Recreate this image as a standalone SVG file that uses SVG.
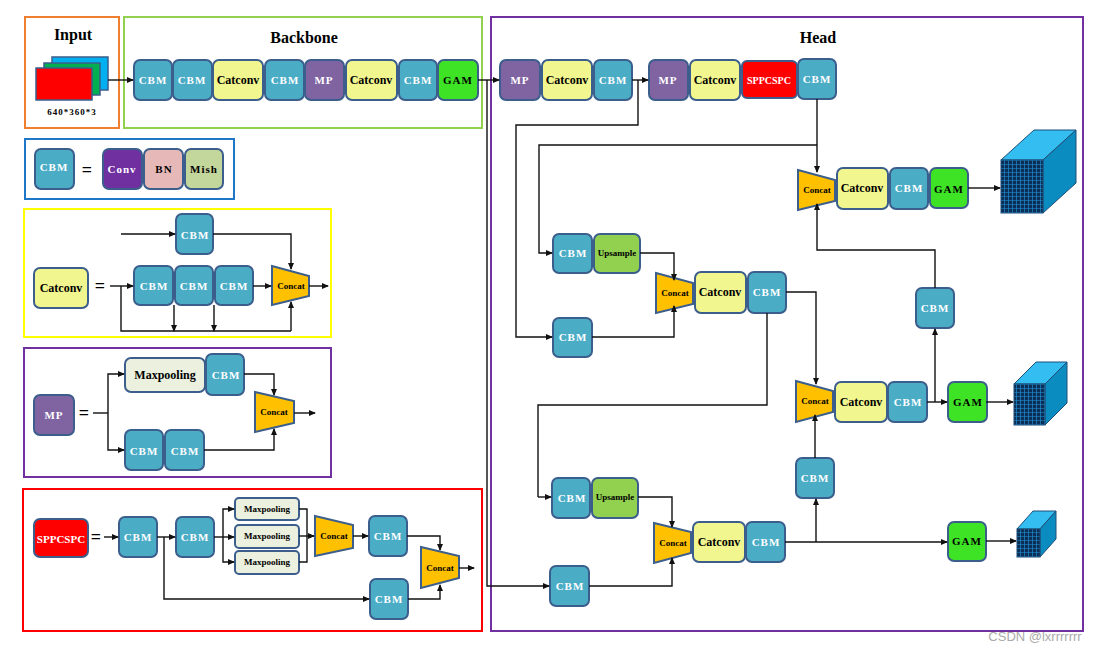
<svg xmlns="http://www.w3.org/2000/svg" width="1098" height="652" viewBox="0 0 1098 652">
<style>
text{font-family:"Liberation Serif",serif;font-weight:bold;text-anchor:middle;dominant-baseline:central}
.n{stroke:#3B5E8C;stroke-width:2}
.cbm{fill:#4BACC6}.cc{fill:#F2F68F}.mp{fill:#8064A2}.gam{fill:#3EE326}.up{fill:#92D050}.mx{fill:#EBF1DE}.sp{fill:#FF0000}
.con{fill:#FFC000;stroke:#3B5E8C;stroke-width:2}
.w{fill:#fff;font-size:11px;letter-spacing:1px}
.b{fill:#000;font-size:12px}
.s{fill:#000;font-size:9px}
.t{fill:#000;font-size:16px}
.ln{fill:none;stroke:#111;stroke-width:1.4;marker-end:url(#a)}
.lp{fill:none;stroke:#111;stroke-width:1.4}
</style>
<defs>
<marker id="a" markerWidth="7" markerHeight="7" refX="6" refY="3.5" orient="auto" markerUnits="userSpaceOnUse"><path d="M0,0.5 L7,3.5 L0,6.5z" fill="#111"/></marker>
<pattern id="g" width="4" height="4" patternUnits="userSpaceOnUse"><rect width="4" height="4" fill="#0C2D55"/><path d="M0,0H4M0,0V4" stroke="#1E9BE0" stroke-width="1.2"/></pattern>
</defs>
<rect width="1098" height="652" fill="#fff"/>
<!-- frames -->
<g fill="none" stroke-width="2">
<rect x="25" y="17" width="94" height="111" stroke="#F08030"/>
<rect x="124" y="17" width="358" height="111" stroke="#92D050"/>
<rect x="491" y="17" width="592" height="614" stroke="#7030A0"/>
<rect x="25" y="139" width="209" height="60" stroke="#1F77C8"/>
<rect x="24" y="209" width="307" height="128" stroke="#FFFF00"/>
<rect x="24" y="348" width="307" height="129" stroke="#7030A0"/>
<rect x="23" y="489" width="459" height="142" stroke="#FF0000"/>
</g>
<text class="t" x="73" y="34">Input</text>
<text class="t" x="304" y="37">Backbone</text>
<text class="t" x="818" y="37">Head</text>
<g id="input">
<rect x="52" y="57" width="56" height="33" fill="#00B0F0" stroke="#3B5E8C" stroke-width="1.5"/>
<rect x="44" y="63" width="56" height="32" fill="#00B050" stroke="#3B5E8C" stroke-width="1.5"/>
<rect x="36" y="68" width="56" height="32" fill="#FF0000" stroke="#3B5E8C" stroke-width="1.5"/>
<text x="72" y="112" style="font-size:9px;letter-spacing:1px">640*360*3</text>
</g>
<g id="backbone">
<rect class="n cbm" x="134" y="60" width="38" height="40" rx="6"/><text class="w" x="153" y="80">CBM</text>
<rect class="n cbm" x="173" y="60" width="39" height="40" rx="6"/><text class="w" x="192" y="80">CBM</text>
<rect class="n cc" x="213" y="60" width="50" height="40" rx="6"/><text class="b" x="238" y="80">Catconv</text>
<rect class="n cbm" x="265" y="60" width="39" height="40" rx="6"/><text class="w" x="285" y="80">CBM</text>
<rect class="n mp" x="305" y="60" width="39" height="40" rx="6"/><text class="w" x="324" y="80">MP</text>
<rect class="n cc" x="346" y="60" width="51" height="40" rx="6"/><text class="b" x="371" y="80">Catconv</text>
<rect class="n cbm" x="399" y="60" width="38" height="40" rx="6"/><text class="w" x="418" y="80">CBM</text>
<rect class="n gam" x="438" y="60" width="40" height="40" rx="6"/><text class="w" x="458" y="80" style="fill:#000">GAM</text>
</g>
<g id="cbm-legend">
<rect class="n cbm" x="35" y="149" width="39" height="40" rx="6"/><text class="w" x="54" y="167">CBM</text>
<text x="87" y="170" style="font-size:18px">=</text>
<rect class="n" fill="#7030A0" x="103" y="149" width="39" height="40" rx="6"/><text class="w" x="122" y="169">Conv</text>
<rect class="n" fill="#E6B9B8" x="144" y="149" width="39" height="40" rx="6"/><text class="w" x="164" y="169" style="fill:#000">BN</text>
<rect class="n" fill="#C3D69B" x="185" y="149" width="38" height="40" rx="6"/><text class="w" x="204" y="169" style="fill:#000">Mish</text>
</g>
<g id="catconv-legend">
<rect class="n cc" x="34" y="268" width="54" height="40" rx="6"/><text class="b" x="61" y="288">Catconv</text>
<text x="100" y="286" style="font-size:18px">=</text>
<rect class="n cbm" x="176" y="214" width="37" height="40" rx="6"/><text class="w" x="195" y="235">CBM</text>
<rect class="n cbm" x="134" y="266" width="39" height="39" rx="6"/><text class="w" x="154" y="286">CBM</text>
<rect class="n cbm" x="175" y="266" width="38" height="39" rx="6"/><text class="w" x="194" y="286">CBM</text>
<rect class="n cbm" x="215" y="266" width="38" height="39" rx="6"/><text class="w" x="234" y="286">CBM</text>
<polygon class="con" points="272,266 309,276 309,296 272,305"/><text class="s" x="291" y="286">Concat</text>
</g>
<g id="mp-legend">
<rect class="n mp" x="34" y="395" width="40" height="40" rx="6"/><text class="w" x="54" y="415">MP</text>
<text x="84" y="413" style="font-size:18px">=</text>
<rect class="n mx" x="125" y="358" width="80" height="34" rx="6"/><text class="b" x="165" y="375">Maxpooling</text>
<rect class="n cbm" x="206" y="354" width="38" height="41" rx="6"/><text class="w" x="226" y="375">CBM</text>
<rect class="n cbm" x="125" y="430" width="38" height="40" rx="6"/><text class="w" x="144" y="451">CBM</text>
<rect class="n cbm" x="165" y="430" width="39" height="40" rx="6"/><text class="w" x="185" y="451">CBM</text>
<polygon class="con" points="255,392 294,401 294,423 255,432"/><text class="s" x="274" y="412">Concat</text>
</g>
<g id="sppcspc-legend">
<rect class="n sp" x="34" y="519" width="54" height="38" rx="6"/><text class="w" x="61" y="539" style="letter-spacing:0">SPPCSPC</text>
<text x="96" y="537" style="font-size:18px">=</text>
<rect class="n cbm" x="119" y="517" width="38" height="40" rx="6"/><text class="w" x="138" y="537">CBM</text>
<rect class="n cbm" x="176" y="517" width="38" height="40" rx="6"/><text class="w" x="195" y="537">CBM</text>
<rect class="n mx" x="235" y="498" width="64" height="22" rx="4"/><text class="s" x="267" y="509">Maxpooling</text>
<rect class="n mx" x="235" y="525" width="64" height="23" rx="4"/><text class="s" x="267" y="536">Maxpooling</text>
<rect class="n mx" x="235" y="551" width="64" height="23" rx="4"/><text class="s" x="267" y="562">Maxpooling</text>
<polygon class="con" points="315,516 353,525 353,548 315,556"/><text class="s" x="334" y="536">Concat</text>
<rect class="n cbm" x="369" y="516" width="38" height="40" rx="6"/><text class="w" x="388" y="536">CBM</text>
<polygon class="con" points="421,547 459,556 459,578 421,588"/><text class="s" x="440" y="568">Concat</text>
<rect class="n cbm" x="370" y="579" width="38" height="40" rx="6"/><text class="w" x="389" y="599">CBM</text>
</g>
<g id="head">
<rect class="n mp" x="500" y="60" width="40" height="40" rx="6"/><text class="w" x="520" y="80">MP</text>
<rect class="n cc" x="542" y="60" width="50" height="40" rx="6"/><text class="b" x="567" y="80">Catconv</text>
<rect class="n cbm" x="594" y="60" width="38" height="40" rx="6"/><text class="w" x="613" y="80">CBM</text>
<rect class="n mp" x="649" y="60" width="39" height="40" rx="6"/><text class="w" x="668" y="80">MP</text>
<rect class="n cc" x="690" y="60" width="50" height="40" rx="6"/><text class="b" x="715" y="80">Catconv</text>
<rect class="n sp" x="742" y="61" width="55" height="37" rx="5"/><text class="w" x="769" y="80" style="letter-spacing:0;font-size:10px">SPPCSPC</text>
<rect class="n cbm" x="798" y="59" width="38" height="40" rx="6"/><text class="w" x="817" y="79">CBM</text>

<polygon class="con" points="798,170 835,180 835,201 798,210"/><text class="s" x="817" y="190">Concat</text>
<rect class="n cc" x="837" y="168" width="51" height="41" rx="6"/><text class="b" x="862" y="188">Catconv</text>
<rect class="n cbm" x="890" y="168" width="38" height="41" rx="6"/><text class="w" x="909" y="188">CBM</text>
<rect class="n gam" x="930" y="168" width="38" height="40" rx="6"/><text class="w" x="949" y="189" style="fill:#000">GAM</text>

<rect class="n cbm" x="553" y="234" width="39" height="39" rx="6"/><text class="w" x="573" y="253">CBM</text>
<rect class="n up" x="594" y="234" width="46" height="39" rx="6"/><text class="s" x="617" y="253">Upsample</text>
<polygon class="con" points="656,273 693,283 693,304 656,313"/><text class="s" x="675" y="293">Concat</text>
<rect class="n cc" x="695" y="272" width="51" height="41" rx="6"/><text class="b" x="720" y="292">Catconv</text>
<rect class="n cbm" x="748" y="272" width="38" height="41" rx="6"/><text class="w" x="767" y="292">CBM</text>
<rect class="n cbm" x="553" y="318" width="39" height="39" rx="6"/><text class="w" x="573" y="337">CBM</text>
<rect class="n cbm" x="916" y="288" width="38" height="40" rx="6"/><text class="w" x="935" y="308">CBM</text>

<polygon class="con" points="796,381 833,391 833,412 796,422"/><text class="s" x="815" y="401">Concat</text>
<rect class="n cc" x="835" y="382" width="52" height="40" rx="6"/><text class="b" x="861" y="402">Catconv</text>
<rect class="n cbm" x="888" y="382" width="39" height="40" rx="6"/><text class="w" x="908" y="402">CBM</text>
<rect class="n gam" x="948" y="382" width="39" height="40" rx="6"/><text class="w" x="968" y="402" style="fill:#000">GAM</text>
<rect class="n cbm" x="796" y="458" width="38" height="40" rx="6"/><text class="w" x="815" y="478">CBM</text>

<rect class="n cbm" x="552" y="478" width="38" height="40" rx="6"/><text class="w" x="572" y="498">CBM</text>
<rect class="n up" x="592" y="478" width="46" height="40" rx="6"/><text class="s" x="615" y="497">Upsample</text>
<polygon class="con" points="654,523 691,532 691,553 654,563"/><text class="s" x="673" y="543">Concat</text>
<rect class="n cc" x="693" y="522" width="52" height="40" rx="6"/><text class="b" x="719" y="542">Catconv</text>
<rect class="n cbm" x="746" y="522" width="39" height="40" rx="6"/><text class="w" x="766" y="542">CBM</text>
<rect class="n gam" x="948" y="522" width="38" height="39" rx="6"/><text class="w" x="967" y="541" style="fill:#000">GAM</text>
<rect class="n cbm" x="550" y="566" width="39" height="40" rx="6"/><text class="w" x="570" y="586">CBM</text>
</g>
<g id="cubes" stroke="#1F4E79" stroke-width="1">
<polygon points="1001,160 1034,130 1076,130 1043,160" fill="#33BDF0"/>
<polygon points="1043,160 1076,130 1076,183 1043,213" fill="#0A8CC0"/>
<rect x="1001" y="160" width="42" height="53" fill="url(#g)"/>
<polygon points="1014,384 1036,362 1067,362 1045,384" fill="#33BDF0"/>
<polygon points="1045,384 1067,362 1067,403 1045,425" fill="#0A8CC0"/>
<rect x="1014" y="384" width="31" height="41" fill="url(#g)"/>
<polygon points="1017,529 1033,511 1056,511 1040,529" fill="#33BDF0"/>
<polygon points="1040,529 1056,511 1056,539 1040,557" fill="#0A8CC0"/>
<rect x="1017" y="529" width="23" height="28" fill="url(#g)"/>
</g>
<g id="connectors">
<path class="ln" d="M108,80H133"/>
<path class="ln" d="M478,80H499"/>
<path class="ln" d="M487,80V586H549"/>
<path class="ln" d="M632,80H648"/>
<path class="ln" d="M638,80V125H516V337H552"/>
<path class="ln" d="M817,99V172"/>
<path class="ln" d="M817,145H539V253H552"/>
<path class="ln" d="M640,253H674V280"/>
<path class="ln" d="M592,337H674V306"/>
<path class="ln" d="M786,292H816V384"/>
<path class="lp" d="M767,313V405H538V497"/><path class="ln" d="M538,497H551"/>
<path class="ln" d="M638,497H672V527"/>
<path class="ln" d="M589,586H672V558"/>
<path class="ln" d="M785,542H947"/>
<path class="ln" d="M816,542V499"/>
<path class="ln" d="M815,458V415"/>
<path class="ln" d="M927,402H947"/>
<path class="ln" d="M935,402V329"/>
<path class="ln" d="M935,288V250H817V204"/>
<path class="ln" d="M968,188H1000"/>
<path class="ln" d="M986,402H1013"/>
<path class="ln" d="M986,541H1016"/>
<!-- catconv legend -->
<path class="ln" d="M110,286H133"/>
<path class="lp" d="M121,286V331H291"/>
<path class="ln" d="M121,234H175"/>
<path class="ln" d="M213,234H291V269"/>
<path class="ln" d="M291,331V302"/>
<path class="ln" d="M174,305V331"/>
<path class="ln" d="M214,305V331"/>
<path class="ln" d="M253,286H271"/>
<path class="ln" d="M309,286H328"/>
<!-- mp legend -->
<path class="lp" d="M93,413H108"/>
<path class="ln" d="M108,413V374H124"/>
<path class="ln" d="M108,413V450H124"/>
<path class="ln" d="M244,374H274V395"/>
<path class="ln" d="M204,450H274V429"/>
<path class="ln" d="M294,413H315"/>
<!-- sppcspc legend -->
<path class="ln" d="M104,537H118"/>
<path class="ln" d="M157,537H175"/>
<path class="ln" d="M164,537V599H369"/>
<path class="ln" d="M214,537H234"/>
<path class="ln" d="M223,537V509H234"/>
<path class="ln" d="M223,537V562H234"/>
<path class="lp" d="M299,509H307V562H299"/>
<path class="ln" d="M299,536H314"/>
<path class="ln" d="M353,536H368"/>
<path class="ln" d="M407,536H440V550"/>
<path class="ln" d="M408,599H440V585"/>
<path class="ln" d="M459,568H474"/>
</g>
<text x="1035" y="636" style="font-family:'Liberation Sans',sans-serif;font-weight:normal;font-size:13px;fill:#aaa">CSDN @lxrrrrrrr</text>
</svg>
